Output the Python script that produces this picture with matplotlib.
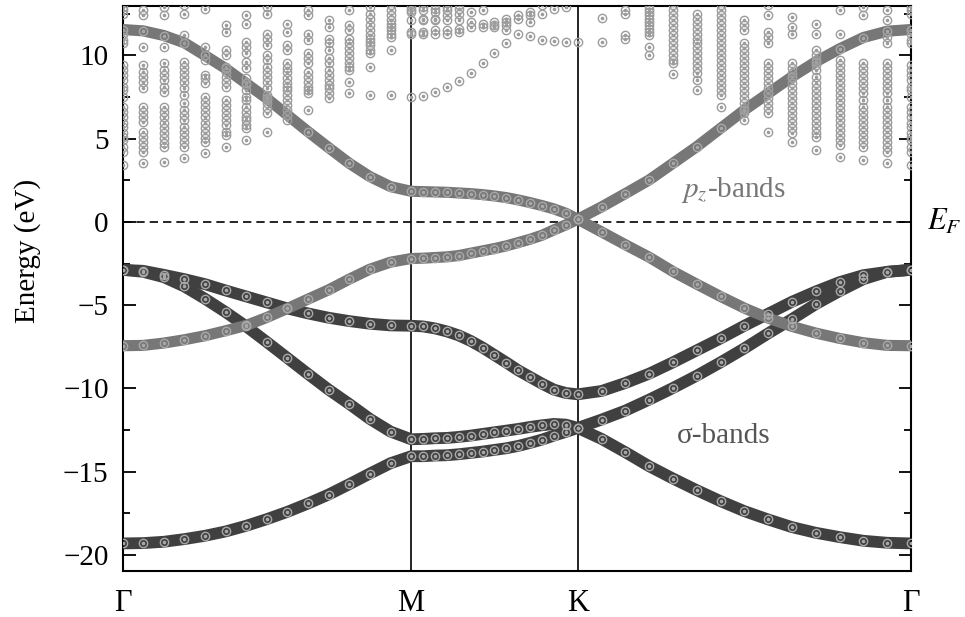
import numpy as np
import matplotlib
matplotlib.use("Agg")
import matplotlib.pyplot as plt

plt.rcParams['font.family'] = ['Liberation Serif', 'DejaVu Serif']
plt.rcParams['mathtext.fontset'] = 'stix'

# pad Gamma - M - K - Gamma (lengtes van de stukken), 15 k-punten per stuk
seg_lengths = [0.866, 0.5, 1.0]
n_per_seg = 15
kpoint_labels = ['Γ', 'M', 'K', 'Γ']

# pz-banden (eV), 43 waarden langs het pad
pz_upper = [11.56, 11.48, 11.2, 10.76, 10.0, 9.22, 8.32, 7.42, 6.42, 5.42, 4.46, 3.52, 2.72, 2.12, 1.84,
            1.82, 1.80, 1.78, 1.74, 1.70, 1.64, 1.56, 1.46, 1.32, 1.16, 0.98, 0.78, 0.52, 0.16,
            0.9, 1.7, 2.52, 3.52, 4.52, 5.62, 6.72, 7.72, 8.72, 9.62, 10.4, 11.08, 11.46, 11.56]
pz_lower = [-7.44, -7.42, -7.28, -7.08, -6.84, -6.54, -6.22, -5.74, -5.2, -4.64, -4.08, -3.44, -2.84, -2.42, -2.2,
            -2.18, -2.14, -2.10, -2.02, -1.88, -1.74, -1.60, -1.44, -1.24, -1.04, -0.80, -0.48, -0.18, 0.16,
            -0.6, -1.37, -2.12, -2.98, -3.74, -4.48, -5.18, -5.78, -6.28, -6.68, -7.0, -7.26, -7.42, -7.44]

# sigma-banden (eV)
sigma_1 = [-2.88, -2.94, -3.18, -3.44, -3.74, -4.12, -4.48, -4.84, -5.2, -5.5, -5.76, -5.96, -6.12, -6.22, -6.24,
           -6.28, -6.4, -6.58, -6.82, -7.15, -7.55, -8.0, -8.45, -8.92, -9.32, -9.72, -10.08, -10.28, -10.36,
           -10.16, -9.68, -9.12, -8.44, -7.72, -7.0, -6.24, -5.52, -4.8, -4.18, -3.62, -3.2, -3.0, -2.88]
sigma_2 = [-2.88, -3.0, -3.32, -3.88, -4.62, -5.42, -6.28, -7.22, -8.18, -9.14, -10.08, -10.94, -11.84, -12.6, -13.06,
           -13.04, -13.0, -12.98, -12.92, -12.84, -12.74, -12.64, -12.54, -12.44, -12.32, -12.22, -12.14, -12.18, -12.38,
           -11.88, -11.34, -10.68, -9.98, -9.24, -8.44, -7.6, -6.7, -5.84, -4.94, -4.16, -3.44, -3.0, -2.88]
sigma_3 = [-19.32, -19.3, -19.22, -19.06, -18.86, -18.6, -18.26, -17.86, -17.42, -16.92, -16.38, -15.76, -15.12, -14.5, -14.08,
           -14.08, -14.04, -14.02, -13.96, -13.88, -13.8, -13.7, -13.6, -13.46, -13.28, -13.08, -12.84, -12.62, -12.38,
           -13.04, -13.84, -14.68, -15.42, -16.12, -16.78, -17.38, -17.88, -18.34, -18.68, -18.94, -19.16, -19.28, -19.32]

# onbezette toestanden (grijze cirkels), per k-punt
unocc_GM = [
    [12.92, 12.72, 12.52, 11.32, 10.96, 10.72, 9.42, 9.12, 8.82, 8.52, 8.12, 7.92, 7.52, 6.92, 6.62, 6.32, 5.92, 5.72, 5.32, 5.12, 4.92, 4.52, 4.22, 3.42],
    [12.72, 12.42, 10.52, 9.42, 9.02, 8.72, 8.42, 8.02, 6.92, 6.62, 6.32, 6.02, 5.42, 5.12, 4.82, 4.52, 4.22, 3.52],
    [12.92, 12.42, 10.52, 9.52, 9.12, 8.82, 8.52, 8.12, 7.82, 6.92, 6.62, 6.32, 5.92, 5.62, 5.32, 5.02, 4.72, 4.52, 3.62],
    [13.02, 12.52, 11.22, 10.72, 9.62, 9.32, 9.02, 8.72, 8.42, 8.02, 7.62, 7.12, 6.72, 6.42, 6.12, 5.72, 5.42, 5.12, 4.82, 4.52, 3.82],
    [12.82, 10.52, 9.72, 8.82, 8.62, 8.32, 7.52, 7.22, 6.92, 6.62, 6.32, 5.92, 5.62, 5.32, 5.02, 4.82, 4.12],
    [11.82, 11.42, 10.32, 10.02, 9.32, 9.02, 8.72, 8.42, 8.12, 7.32, 7.02, 6.72, 6.42, 6.12, 5.82, 5.42, 5.22, 4.52],
    [12.42, 11.92, 10.82, 10.52, 10.12, 9.62, 9.22, 8.62, 8.22, 7.92, 7.52, 7.32, 6.92, 6.62, 6.32, 6.12, 5.82, 5.62, 4.92],
    [12.92, 12.52, 11.32, 11.02, 10.62, 10.02, 9.72, 9.32, 9.02, 8.72, 8.42, 8.02, 7.62, 7.32, 7.12, 6.82, 6.52, 5.42],
    [11.92, 11.42, 10.62, 10.32, 9.52, 9.22, 9.02, 8.62, 8.32, 8.12, 7.92, 7.62, 7.32, 7.02, 6.72, 6.42, 6.12],
    [12.72, 12.42, 11.32, 10.92, 10.12, 9.82, 9.52, 9.02, 8.72, 8.42, 8.12, 7.92, 7.72, 6.72],
    [12.12, 11.72, 11.02, 10.72, 10.32, 9.82, 9.52, 9.12, 8.82, 8.52, 8.22, 8.02, 7.72, 7.42],
    [12.72, 11.82, 11.52, 11.02, 10.72, 10.42, 10.12, 9.82, 9.52, 9.32, 9.12, 8.42, 7.72],
    [12.92, 12.52, 12.22, 11.82, 11.52, 11.22, 11.02, 10.82, 10.62, 10.32, 10.12, 9.32, 7.62],
    [13.02, 12.72, 12.42, 12.12, 11.92, 11.72, 11.52, 11.32, 11.12, 10.32, 7.62],
    [12.92, 12.72, 12.62, 12.12, 11.42, 11.32, 7.52],
]
unocc_MK = [
    [12.92, 12.72, 12.22, 12.12, 11.42, 11.32, 7.58],
    [13.02, 12.82, 12.62, 12.22, 12.12, 11.52, 11.32, 7.82],
    [12.92, 12.72, 12.42, 12.12, 11.52, 11.32, 8.08],
    [13.02, 12.82, 12.52, 12.12, 11.62, 11.42, 8.48],
    [12.62, 12.02, 11.72, 8.96],
    [12.76, 11.92, 11.72, 9.52],
    [12.02, 11.82, 11.72, 10.12],
    [12.22, 12.02, 11.82, 11.52, 10.72],
    [12.42, 12.22, 11.32],
    [12.62, 12.42, 12.02, 11.16],
    [13.02, 12.52, 10.96],
    [12.82, 10.88],
    [12.92, 10.82],
    [10.78],
]
unocc_KG = [
    [12.28, 10.82],
    [12.72, 12.52, 11.22, 11.02],
    [13.02, 12.82, 12.62, 12.42, 12.22, 12.02, 11.82, 11.62, 11.42, 11.22, 10.52, 10.02],
    [13.02, 12.72, 12.42, 12.12, 11.82, 11.52, 11.22, 10.92, 10.62, 10.32, 10.02, 9.72, 9.52, 8.88],
    [12.52, 12.22, 11.92, 11.62, 11.32, 11.02, 10.72, 10.42, 10.12, 9.82, 9.52, 9.22, 8.92, 8.52, 7.92],
    [13.02, 12.72, 12.42, 12.12, 11.82, 11.52, 11.22, 10.92, 10.62, 10.32, 10.02, 9.72, 9.42, 9.12, 8.82, 8.52, 8.22, 7.92, 7.62, 6.92],
    [12.12, 11.82, 11.52, 10.72, 10.42, 10.12, 9.82, 9.52, 9.22, 8.92, 8.62, 8.32, 8.02, 7.72, 7.42, 7.12, 6.82, 6.52, 6.12],
    [13.02, 12.42, 11.42, 11.12, 10.72, 9.52, 9.22, 8.92, 8.62, 8.32, 8.02, 7.72, 7.42, 7.12, 6.82, 6.52, 5.42],
    [12.32, 11.72, 11.32, 9.52, 9.22, 8.92, 8.62, 8.32, 8.02, 7.72, 7.42, 7.12, 6.82, 6.52, 6.22, 5.92, 5.62, 5.32, 4.82],
    [11.92, 11.32, 10.32, 10.02, 9.72, 9.42, 9.12, 8.72, 8.32, 8.02, 7.72, 7.42, 7.12, 6.82, 6.52, 6.22, 5.92, 5.62, 5.32, 5.12, 4.32],
    [12.72, 11.32, 9.72, 9.42, 9.12, 8.82, 8.52, 8.22, 7.92, 7.62, 7.32, 7.02, 6.72, 6.42, 6.12, 5.82, 5.52, 5.22, 4.92, 4.62, 3.92],
    [12.92, 12.42, 9.52, 9.22, 8.92, 8.62, 8.32, 8.02, 7.72, 7.32, 6.92, 6.62, 6.32, 6.02, 5.72, 5.42, 5.12, 4.82, 4.52, 3.72],
    [12.72, 12.12, 11.12, 10.72, 9.52, 9.22, 8.92, 8.62, 8.32, 8.02, 7.72, 7.32, 6.92, 6.62, 6.32, 6.02, 5.72, 5.42, 5.12, 4.82, 4.52, 4.22, 3.52],
    [12.92, 12.72, 12.52, 11.32, 10.96, 10.72, 9.42, 9.12, 8.82, 8.52, 8.12, 7.92, 7.52, 6.92, 6.62, 6.32, 5.92, 5.72, 5.32, 5.12, 4.92, 4.52, 4.22, 3.42],
]

# k-coordinaten
nodes = np.concatenate([[0], np.cumsum(seg_lengths)])
k = np.concatenate([np.linspace(nodes[0], nodes[1], n_per_seg),
                    np.linspace(nodes[1], nodes[2], n_per_seg)[1:],
                    np.linspace(nodes[2], nodes[3], n_per_seg)[1:]])

unocc = unocc_GM + unocc_MK + unocc_KG
unocc_k = [k[i] for i, col in enumerate(unocc) for e in col]
unocc_e = [e for col in unocc for e in col]

fig = plt.figure(figsize=(9.65, 6.17), dpi=100)
ax = fig.add_axes([0.127, 0.075, 0.817, 0.916])

dark = '#404040'
mid = '#777777'
circ = '#a8a8a8'

ax.axvline(nodes[1], color='k', lw=1.2, zorder=1)
ax.axvline(nodes[2], color='k', lw=1.2, zorder=1)
ax.axhline(0, color='k', lw=1.2, ls=(0, (5, 3)), zorder=1)

for band in [sigma_1, sigma_2, sigma_3]:
    ax.plot(k, band, color=dark, lw=8.5, solid_capstyle='butt', zorder=2)
for band in [pz_lower, pz_upper]:
    ax.plot(k, band, color=mid, lw=8, solid_capstyle='butt', zorder=3)

# cirkeltjes met stip op de bezette banden
for band in [sigma_1, sigma_2, sigma_3, pz_lower, pz_upper]:
    ax.plot(k, band, ls='none', marker='o', ms=6, mfc='none', mec=circ, mew=1.0, zorder=4)
    ax.plot(k, band, ls='none', marker='o', ms=1.6, color=circ, zorder=4)

ax.plot(unocc_k, unocc_e, ls='none', marker='o', ms=6, mfc='none', mec='#9c9c9c', mew=1.0, zorder=4)
ax.plot(unocc_k, unocc_e, ls='none', marker='o', ms=1.6, color='#9c9c9c', zorder=4)

ax.set_xlim(nodes[0], nodes[-1])
ax.set_ylim(-20.96, 13.0)
ax.set_xticks(nodes)
ax.set_xticklabels(kpoint_labels, fontsize=22)
ax.tick_params(axis='x', length=0, pad=13)
ax.set_yticks([-20, -15, -10, -5, 0, 5, 10])
ax.set_yticklabels(['\u221220', '\u221215', '\u221210', '\u22125', '0', '5', '10'])
ax.set_yticks(np.arange(-17.5, 13, 5), minor=True)
ax.tick_params(axis='y', which='both', direction='in', left=True, right=True, labelsize=21, pad=10)
ax.tick_params(axis='y', which='major', length=9, width=1.3)
ax.tick_params(axis='y', which='minor', length=5, width=1.3)
for s in ax.spines.values():
    s.set_linewidth(1.5)

ax.set_ylabel('Energy (eV)', fontsize=21)
ax.yaxis.set_label_coords(-0.103, 0.565)

ax.text(1.675, 1.5, '$p_z$-bands', fontsize=21, color=mid, ha='left', va='baseline')
ax.text(1.663, -13.28, 'σ-bands', fontsize=21, color='#555555', ha='left', va='baseline')
ax.text(1.02, -0.5, '$E_F$', fontsize=22, color='k', ha='left', va='baseline',
        transform=ax.get_yaxis_transform())

fig.savefig('out.png', dpi=100)
